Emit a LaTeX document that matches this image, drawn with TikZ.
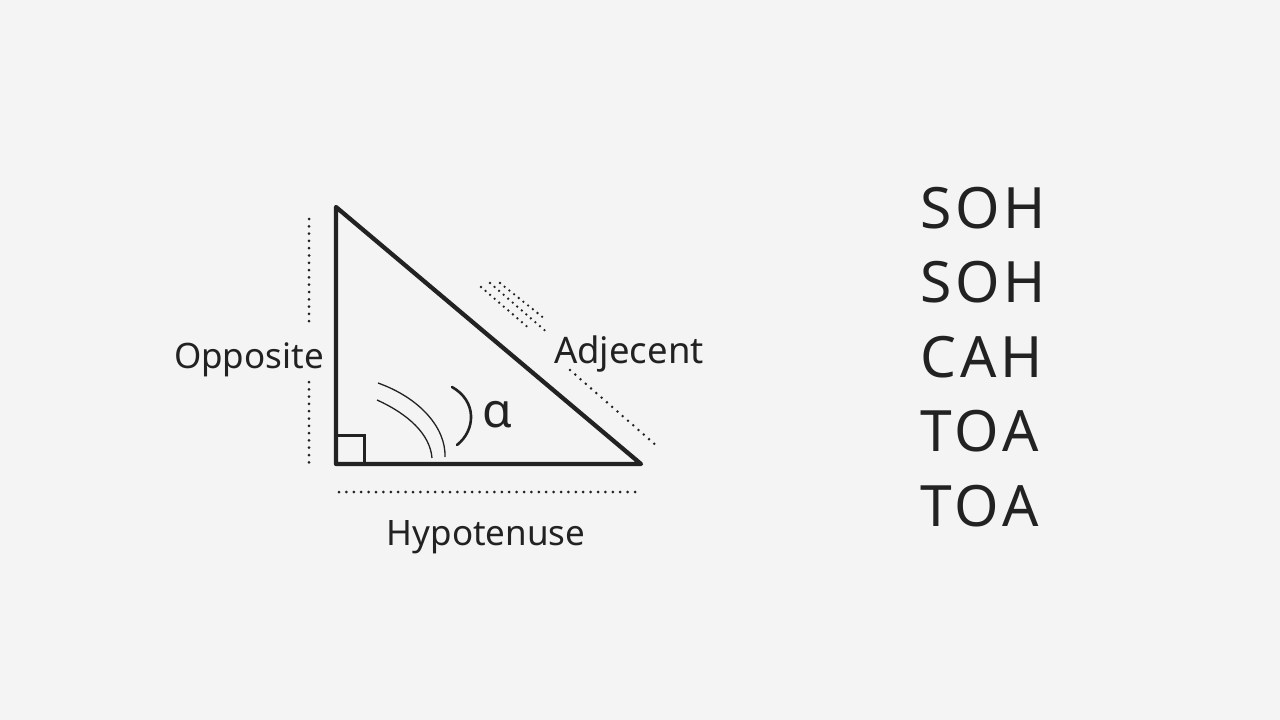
\documentclass[tikz,border=0pt]{standalone}
\usepackage{fontspec}
\setmainfont{Noto Sans}
\definecolor{bg}{HTML}{F4F4F4}
\definecolor{ink}{HTML}{222222}
\tikzset{
  triline/.style={draw=ink, line width=4.3pt, line join=round, line cap=round},
  dotline/.style={draw=ink, line width=3pt, line cap=round, dash pattern=on 0pt off 7.3pt},
  finedots/.style={draw=ink, line width=2.6pt, line cap=round, dash pattern=on 0pt off 6pt},
  thinarc/.style={draw=ink, line width=1.3pt},
  label/.style={text=ink, inner sep=0pt, font=\fontsize{35}{40}\selectfont},
  mnem/.style={text=ink, inner sep=0pt, anchor=base west, font=\fontsize{57}{64}\selectfont\addfontfeature{LetterSpace=7}}
}
\begin{document}
\begin{tikzpicture}[x=1pt,y=-1pt]
\fill[bg] (0,0) rectangle (1280,720);
\useasboundingbox (0,0) rectangle (1280,720);
% triangle
\coordinate (T) at (336,207);
\coordinate (B) at (336,464);
\coordinate (R) at (641,464);
\draw[triline] (T) -- (B) -- (R) -- cycle;
\coordinate (sq1) at (336,435);
\coordinate (sq2) at (364,435);
\coordinate (sq3) at (364,464);
\draw[ink, line width=3pt] (sq1) -- (sq2) -- (sq3);
% angle arcs
\coordinate (a1s) at (378,383);
\coordinate (a1e) at (445,457);
\coordinate (a2s) at (377,400);
\coordinate (a2e) at (432,458);
\draw[thinarc] (a1s) .. controls (420,398) and (446,428) .. (a1e);
\draw[thinarc] (a2s) .. controls (408,414) and (430,434) .. (a2e);
\coordinate (a3s) at (452,387);
\coordinate (a3e) at (457,445);
\draw[ink, line width=2.6pt, line cap=round] (a3s) .. controls (477,401) and (476,430) .. (a3e);
\node[text=ink, inner sep=0pt, anchor=base, font=\fontsize{48}{56}\selectfont] (alpha) at (497,427) {α};
% dotted guides
\coordinate (o1) at (309,219);
\coordinate (o2) at (309,328);
\coordinate (o3) at (309,382);
\coordinate (o4) at (309,466);
\draw[dotline] (o1) -- (o2);
\draw[dotline] (o3) -- (o4);
\coordinate (h1) at (339,492);
\coordinate (h2) at (635,492);
\draw[dotline, dash pattern=on 0pt off 7.4pt] (h1) -- (h2);
\coordinate (d1) at (570,370);
\coordinate (d2) at (658,447);
\draw[dotline, line width=2.8pt, dash pattern=on 0pt off 7pt] (d1) -- (d2);
\coordinate (c1) at (481,287);
\coordinate (c2) at (531,330);
\coordinate (c3) at (490,283);
\coordinate (c4) at (549,334);
\coordinate (c5) at (500,283);
\coordinate (c6) at (545,319);
\draw[finedots] (c1) -- (c2);
\draw[finedots] (c3) -- (c4);
\draw[finedots] (c5) -- (c6);
% labels
\node[label, anchor=base] (opp) at (249,368) {Opposite};
\node[label, anchor=base] (hyp) at (486,545) {Hypotenuse};
\node[label, anchor=base west, font=\fontsize{36.5}{40}\selectfont] (adj) at (554,363) {Adjecent};
% mnemonic
\node[mnem] (m1) at (920,228) {SOH};
\node[mnem] (m2) at (920,302.5) {SOH};
\node[mnem] (m3) at (920,377) {CAH};
\node[mnem] (m4) at (920,451.5) {TOA};
\node[mnem] (m5) at (920,526) {TOA};
\end{tikzpicture}
\end{document}
